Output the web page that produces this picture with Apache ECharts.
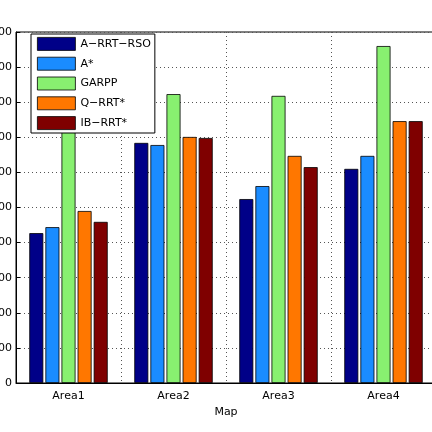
<!DOCTYPE html>
<html>
<head>
<meta charset="utf-8">
<script src="https://cdn.jsdelivr.net/npm/echarts@6/dist/echarts.min.js"></script>
<style>html,body{margin:0;padding:0;background:#fff}#c{width:432px;height:432px}</style>
</head>
<body>
<div id="c"></div>
<script>
var categories = ['Area1', 'Area2', 'Area3', 'Area4'];
var names = ['A\u2212RRT\u2212RSO', 'A*', 'GARPP', 'Q\u2212RRT*', 'IB\u2212RRT*'];
var aRrtRso = [427, 684, 524, 610];
var aStar = [444, 678, 561, 647];
var garpp = [724, 823, 818, 960];
var qRrt = [490, 701, 647, 746];
var ibRrt = [459, 698, 615, 746];
var colors = ['#000088', '#1a8cff', '#88f070', '#ff7700', '#7f0000'];

var values = [aRrtRso, aStar, garpp, qRrt, ibRrt];
var series = values.map(function (v, i) {
    return {
        name: names[i],
        type: 'bar',
        data: v,
        barWidth: 14,
        barGap: '15%',
        itemStyle: { color: colors[i], borderColor: '#000', borderWidth: 0.8 }
    };
});

var dots = { type: [1, 3], color: '#555', width: 1 };

var chart = echarts.init(document.getElementById('c'));
chart.setOption({
    animation: false,
    textStyle: { fontFamily: 'DejaVu Sans' },
    grid: {
        left: 16, right: -4, top: 32, bottom: 49, containLabel: false, outerBoundsMode: 'none',
        show: true, borderColor: '#000', borderWidth: 1
    },
    legend: {
        orient: 'vertical', left: 31, top: 34, itemWidth: 38, itemHeight: 13, itemGap: 6,
        icon: 'rect',
        backgroundColor: '#fff', borderColor: '#000', borderWidth: 1, borderRadius: 0, padding: [3, 4, 3, 6],
        textStyle: { fontSize: 11, color: '#000' },
        itemStyle: { borderColor: '#000', borderWidth: 0.8 }
    },
    xAxis: {
        type: 'category', data: categories, name: 'Map', nameLocation: 'middle', nameGap: 22,
        nameTextStyle: { fontSize: 11, color: '#000' },
        axisLine: { lineStyle: { color: '#000' } },
        axisTick: { show: false },
        axisLabel: { color: '#000', fontSize: 11 },
        splitLine: { show: true, interval: 0, lineStyle: dots }
    },
    yAxis: {
        type: 'value', min: 0, max: 1000, interval: 100,
        axisLine: { show: true, lineStyle: { color: '#000' } },
        axisTick: { show: true, inside: true, length: 4 },
        axisLabel: { color: '#000', fontSize: 11, margin: 4, formatter: function (v) { return String(v); } },
        splitLine: { lineStyle: dots }
    },
    series: series
});
</script>
</body>
</html>
